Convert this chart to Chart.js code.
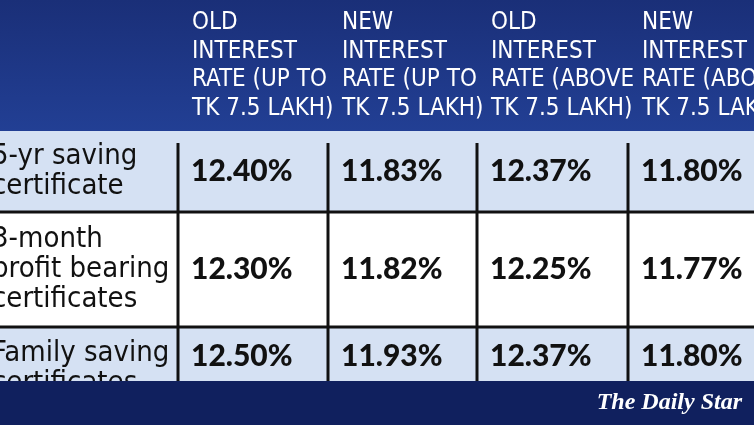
<!DOCTYPE html>
<html><head><meta charset="utf-8">
<script src="https://cdn.jsdelivr.net/npm/chart.js@4"></script>
<style>html,body{margin:0;padding:0;background:#10205e}#c{display:block}</style>
</head><body><canvas id="c" width="754" height="425"></canvas>
<script>
const headers = [
  ["OLD","INTEREST","RATE (UP TO","TK 7.5 LAKH)"],
  ["NEW","INTEREST","RATE (UP TO","TK 7.5 LAKH)"],
  ["OLD","INTEREST","RATE (ABOVE","TK 7.5 LAKH)"],
  ["NEW","INTEREST","RATE (ABOVE","TK 7.5 LAKH)"]
];
const categories = [["5-yr saving","certificate"],["3-month","profit bearing","certificates"],["Family saving","certificates"]];
const oldUpTo = [12.40, 12.30, 12.50];
const newUpTo = [11.83, 11.82, 11.93];
const oldAbove = [12.37, 12.25, 12.37];
const newAbove = [11.80, 11.77, 11.80];
const series = [oldUpTo, newUpTo, oldAbove, newAbove];

const colEdges = [-10, 178, 328, 477, 628, 780];
const rowEdges = [0, 131, 212, 327, 440];
const footerTop = 381;

const tablePlugin = {
  id: 'table',
  beforeDraw(chart) {
    const ctx = chart.ctx, xs = chart.scales.x, ys = chart.scales.y;
    const X = v => xs.getPixelForValue(v), Y = v => ys.getPixelForValue(v);
    ctx.save();
    let g = ctx.createLinearGradient(0, 0, 0, Y(rowEdges[1]));
    g.addColorStop(0, '#1a2f78'); g.addColorStop(1, '#223f94');
    ctx.fillStyle = g; ctx.fillRect(0, 0, chart.width, Y(rowEdges[1]));
    const rowCols = ['#d5e1f3', '#ffffff', '#d5e1f3'];
    for (let r = 0; r < 3; r++) {
      ctx.fillStyle = rowCols[r];
      ctx.fillRect(0, Y(rowEdges[r+1]), chart.width, Y(rowEdges[r+2]) - Y(rowEdges[r+1]));
    }
    ctx.strokeStyle = '#111'; ctx.lineWidth = 3;
    for (let i = 1; i <= 4; i++) {
      ctx.beginPath(); ctx.moveTo(X(colEdges[i]), Y(143)); ctx.lineTo(X(colEdges[i]), Y(footerTop)); ctx.stroke();
    }
    for (let r = 2; r <= 3; r++) {
      ctx.beginPath(); ctx.moveTo(0, Y(rowEdges[r])); ctx.lineTo(chart.width, Y(rowEdges[r])); ctx.stroke();
    }
    ctx.fillStyle = '#ffffff'; ctx.textBaseline = 'middle'; ctx.textAlign = 'left';
    ctx.font = '24px "Liberation Sans Narrow", "DejaVu Sans Condensed", sans-serif';
    headers.forEach((lines, c) => {
      lines.forEach((t, i) => ctx.fillText(t, X(colEdges[c+1]) + 14, Y(23 + i * 28.5)));
    });
    categories.forEach((lines, r) => {
      const top = Y(rowEdges[r+1]), bot = r === 2 ? Y(rowEdges[r+1]) + 82 : Y(rowEdges[r+2]);
      const mid = (top + bot) / 2, lh = 30;
      ctx.fillStyle = '#111'; ctx.textAlign = 'left';
      ctx.font = '29px "Liberation Sans Narrow", "DejaVu Sans Condensed", sans-serif';
      lines.forEach((t, i) => ctx.fillText(t, X(colEdges[0]) + 2, mid + (i - (lines.length - 1) / 2) * lh));
      ctx.font = '900 30px "Lato", "DejaVu Sans", sans-serif';
      const vy = r === 2 ? Y(rowEdges[r+1]) + 29 : mid;
      series.forEach((s, c) => ctx.fillText(s[r].toFixed(2) + '%', X(colEdges[c+1]) + 13, vy));
    });
    ctx.fillStyle = '#10205e'; ctx.fillRect(0, Y(footerTop), chart.width, chart.height - Y(footerTop));
    ctx.fillStyle = '#fff'; ctx.textAlign = 'right';
    ctx.font = 'bold italic 24px "Liberation Serif", serif';
    ctx.fillText('The Daily Star', chart.width - 12, Y(403));
    ctx.restore();
  }
};

new Chart(document.getElementById('c'), {
  type: 'scatter',
  data: { datasets: [{ data: [] }] },
  options: {
    responsive: false, animation: false,
    layout: { padding: 0 },
    plugins: { legend: { display: false }, tooltip: { enabled: false } },
    scales: {
      x: { type: 'linear', min: 0, max: 754, display: false },
      y: { type: 'linear', min: 0, max: 425, reverse: true, display: false }
    }
  },
  plugins: [tablePlugin]
});
</script></body></html>
